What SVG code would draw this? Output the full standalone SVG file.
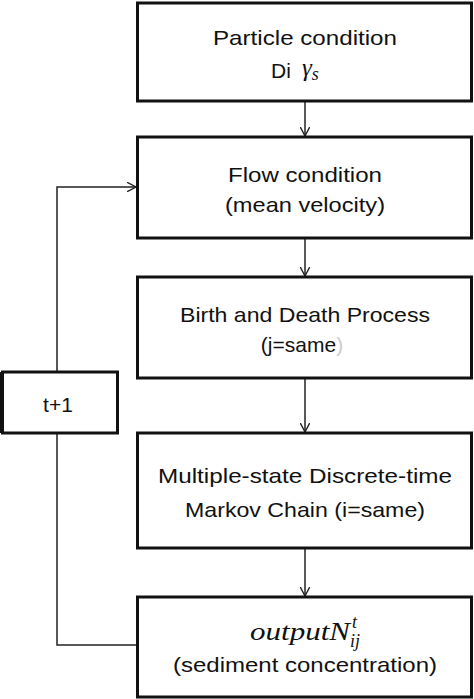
<svg xmlns="http://www.w3.org/2000/svg" width="474" height="699" viewBox="0 0 474 699">
<defs>
<style>
.box{fill:#fff;stroke:#111;stroke-width:3}
.lbl{font-family:"Liberation Sans",Arial,sans-serif;font-size:21px;fill:#111;text-anchor:middle}
.math{font-family:"Liberation Serif","Times New Roman",serif;font-style:italic;fill:#111}
.conn{fill:none;stroke:#222;stroke-width:1.5}
</style>
<marker id="arr" viewBox="0 0 10 10" refX="9.5" refY="5" markerWidth="10" markerHeight="10" markerUnits="userSpaceOnUse" orient="auto">
<path d="M0,0 L9.5,5 L0,10" fill="none" stroke="#222" stroke-width="1.4"/>
</marker>
</defs>
<rect width="474" height="699" fill="#fff"/>
<g id="connectors">
<line class="conn" x1="305" y1="101" x2="305" y2="136" marker-end="url(#arr)"/>
<line class="conn" x1="305" y1="238" x2="305" y2="276" marker-end="url(#arr)"/>
<line class="conn" x1="305" y1="378" x2="305" y2="432" marker-end="url(#arr)"/>
<line class="conn" x1="305" y1="548" x2="305" y2="596" marker-end="url(#arr)"/>
<polyline class="conn" points="137,645 57,645 57,433"/>
<polyline class="conn" points="57,372 57,187 136,187" marker-end="url(#arr)"/>
</g>
<g id="particle">
<rect class="box" x="137.5" y="3" width="334" height="98"/>
<text class="lbl" x="305" y="45" textLength="184" lengthAdjust="spacingAndGlyphs">Particle condition</text>
<text x="271" y="78" style="font-family:'Liberation Sans',Arial,sans-serif;font-size:21px;fill:#111">Di</text>
<text class="math" x="302" y="76" font-size="25">γ<tspan font-size="18" dy="4">s</tspan></text>
</g>
<g id="flow">
<rect class="box" x="137.5" y="137" width="334" height="101"/>
<text class="lbl" x="305" y="182" textLength="154" lengthAdjust="spacingAndGlyphs">Flow condition</text>
<text class="lbl" x="305" y="212" textLength="160" lengthAdjust="spacingAndGlyphs">(mean velocity)</text>
</g>
<g id="birth">
<rect class="box" x="137.5" y="277" width="334" height="101"/>
<text class="lbl" x="305" y="322" textLength="250" lengthAdjust="spacingAndGlyphs">Birth and Death Process</text>
<text class="lbl" x="302" y="352">(j=same<tspan fill="#ccc">)</tspan></text>
</g>
<g id="markov">
<rect class="box" x="137.5" y="433" width="334" height="115"/>
<text class="lbl" x="305" y="483" textLength="294" lengthAdjust="spacingAndGlyphs">Multiple-state Discrete-time</text>
<text class="lbl" x="305" y="517" textLength="240" lengthAdjust="spacingAndGlyphs">Markov Chain (i=same)</text>
</g>
<g id="output">
<rect class="box" x="137.5" y="597" width="334" height="100"/>
<text class="math" x="250" y="640" font-size="26" textLength="100" lengthAdjust="spacingAndGlyphs">outputN</text>
<text class="math" x="352" y="628" font-size="18">t</text>
<text class="math" x="350" y="647" font-size="18">ij</text>
<text class="lbl" x="305" y="672" textLength="264" lengthAdjust="spacingAndGlyphs">(sediment concentration)</text>
</g>
<g id="t1">
<rect class="box" x="2.5" y="372" width="115" height="61"/>
<line x1="2" y1="372" x2="2" y2="433" stroke="#111" stroke-width="4"/>
<text class="lbl" x="58" y="412">t+1</text>
</g>
</svg>
